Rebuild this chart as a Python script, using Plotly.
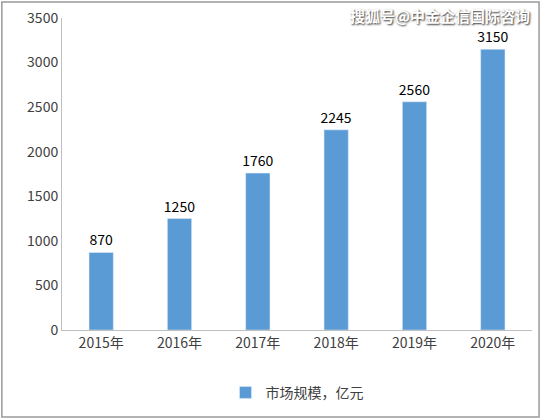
import plotly.graph_objects as go

years = ["2015年", "2016年", "2017年", "2018年", "2019年", "2020年"]
values = [870, 1250, 1760, 2245, 2560, 3150]
series_name = "市场规模，亿元"
y_ticks = [0, 500, 1000, 1500, 2000, 2500, 3000, 3500]

font = "Noto Sans CJK SC"
fig = go.Figure(go.Bar(
    x=years, y=values, name=series_name, marker_color="#5b9bd5",
    text=[str(v) for v in values], textposition="outside", constraintext="none",
    textfont=dict(size=14, color="#000"), cliponaxis=False,
))
fig.update_layout(
    width=542, height=419, paper_bgcolor="white", plot_bgcolor="white",
    margin=dict(l=62, r=10, t=18, b=89, autoexpand=False),
    font=dict(family=font, size=14, color="#404040"),
    bargap=0.69, showlegend=True, uniformtext=dict(mode=False),
    legend=dict(orientation="h", x=0.5, xanchor="center", y=-0.15, yanchor="top",
                font=dict(size=14, color="#404040")),
    xaxis=dict(showline=True, linecolor="#bfbfbf", ticks="", automargin=False,
               tickfont=dict(size=14, color="#404040")),
    yaxis=dict(range=[0, 3500], tickvals=y_ticks, showgrid=False, showline=True, automargin=False,
               linecolor="#bfbfbf", ticks="", tickfont=dict(size=14, color="#404040"), zeroline=False),
    shapes=[dict(type="rect", xref="paper", yref="paper", x0=-0.128, x1=1.015, y0=-0.279, y1=1.051,
                 line=dict(color="#9a9a9a", width=1.5))],
    annotations=[dict(text="<b>搜狐号@中金企信国际咨询</b>", xref="paper", yref="paper", x=1.0, y=1.048,
                      xanchor="right", yanchor="top", showarrow=False,
                      font=dict(size=15, color="white", family=font, shadow="1px 1px 2px #333"))],
)
fig.write_html("out.html", config={"displayModeBar": False},
               post_script="document.body.style.margin='0';document.body.style.overflow='hidden';")
